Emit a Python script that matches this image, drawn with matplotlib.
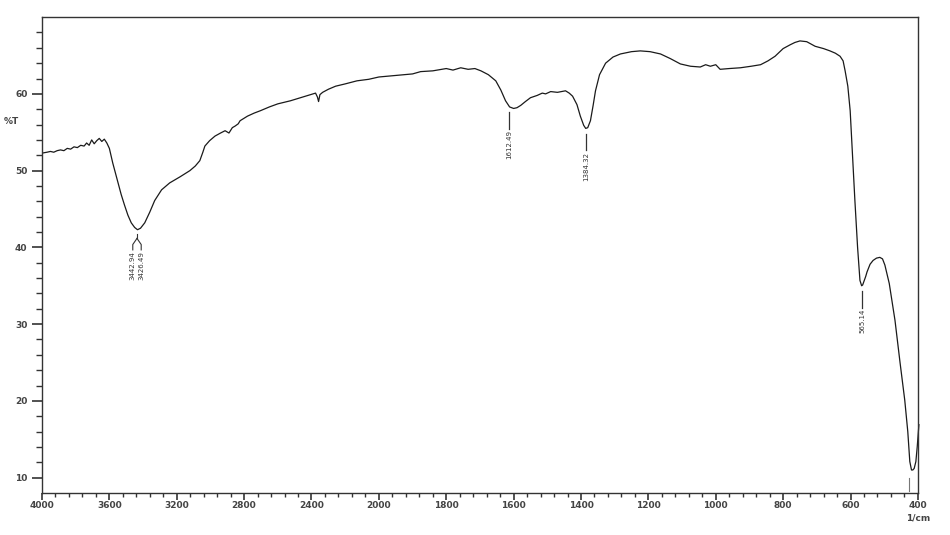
import numpy as np
import matplotlib.pyplot as plt

# spectrum (wavenumber 1/cm, %T)
wavenumber = [3995, 3970, 3950, 3930, 3910, 3890, 3870, 3850, 3830, 3810, 3790, 3770,
              3750, 3735, 3720, 3705, 3690, 3675, 3660, 3645, 3630, 3615, 3600, 3580,
              3552, 3530, 3510, 3490, 3470, 3450, 3433, 3415, 3390, 3360, 3331, 3290,
              3242, 3180, 3122, 3090, 3063, 3045, 3033, 3005, 2973, 2940, 2913, 2890,
              2870, 2854, 2835, 2824, 2780, 2740, 2704, 2650, 2600, 2525, 2450, 2376,
              2365, 2358, 2350, 2334, 2300, 2257, 2200, 2130, 2060, 2000, 1950, 1900,
              1876, 1840, 1800, 1780, 1757, 1735, 1715, 1697, 1675, 1653, 1638, 1624,
              1612, 1600, 1590, 1579, 1565, 1550, 1530, 1515, 1505, 1490, 1470, 1446,
              1435, 1425, 1412, 1402, 1392, 1386, 1380, 1372, 1364, 1357, 1345, 1327,
              1305, 1283, 1250, 1224, 1195, 1164, 1135, 1105, 1075, 1046, 1030, 1016,
              1000, 987, 960, 927, 895, 867, 845, 824, 800, 779, 765, 750, 730, 705,
              680, 661, 645, 631, 622, 616, 608, 601, 594, 587, 579, 572, 567, 564,
              560, 555, 551, 542, 533, 523, 513, 505, 498, 485, 468, 453, 439, 430,
              424, 419, 415, 411, 406, 402, 397]
transmittance = [52.3, 52.4, 52.5, 52.4, 52.6, 52.7, 52.6, 52.9, 52.8, 53.1, 53.0, 53.3,
                 53.2, 53.6, 53.3, 54.0, 53.5, 53.9, 54.2, 53.8, 54.1, 53.6, 52.9, 51.0,
                 48.7, 46.9, 45.5, 44.2, 43.2, 42.6, 42.3, 42.5, 43.2, 44.6, 46.1, 47.5,
                 48.4, 49.2, 50.0, 50.6, 51.3, 52.4, 53.2, 53.9, 54.5, 54.9, 55.2, 54.9,
                 55.6, 55.8, 56.1, 56.5, 57.1, 57.5, 57.8, 58.3, 58.7, 59.1, 59.6, 60.1,
                 59.6, 59.0, 59.9, 60.2, 60.6, 61.0, 61.3, 61.7, 61.9, 62.2, 62.4, 62.6,
                 62.9, 63.0, 63.3, 63.1, 63.4, 63.2, 63.3, 63.0, 62.5, 61.7, 60.5, 59.1,
                 58.3, 58.1, 58.2, 58.5, 59.0, 59.5, 59.8, 60.1, 60.0, 60.3, 60.2, 60.4,
                 60.1, 59.7, 58.6, 57.1, 55.9, 55.5, 55.6, 56.5, 58.5, 60.4, 62.5, 64.0,
                 64.8, 65.2, 65.5, 65.6, 65.5, 65.2, 64.6, 63.9, 63.6, 63.5, 63.8, 63.6,
                 63.8, 63.2, 63.3, 63.4, 63.6, 63.8, 64.3, 64.9, 65.9, 66.4, 66.7, 66.9,
                 66.8, 66.2, 65.9, 65.6, 65.3, 64.9, 64.3, 63.0, 61.0, 57.8, 52.0, 46.1,
                 40.0, 35.7, 35.0, 35.1, 35.6, 36.2, 36.8, 37.8, 38.3, 38.6, 38.7, 38.5,
                 37.7, 35.3, 30.5, 25.0, 20.1, 16.0, 12.1, 11.0, 11.0, 11.2, 12.1, 14.0,
                 16.9]

# peaks marked on the chart
peak_pos = [3442.94, 3426.49, 1612.49, 1384.32, 565.14]
peak_labels = ['3442.94', '3426.49', '1612.49', '1384.32', '565.14']

xticks = [4000, 3600, 3200, 2800, 2400, 2000, 1800, 1600, 1400, 1200, 1000, 800, 600, 400]
yticks = [10, 20, 30, 40, 50, 60]


# the x axis is compressed 2x above 2000 1/cm
def fwd(w):
    w = np.asarray(w, dtype=float)
    return np.where(w > 2000, 2000 + (w - 2000) / 2, w)


def inv(v):
    v = np.asarray(v, dtype=float)
    return np.where(v > 2000, 2000 + (v - 2000) * 2, v)


plt.rcParams['font.family'] = ['DejaVu Sans']
fig = plt.figure(figsize=(9.5, 5.35), dpi=100)
ax = fig.add_axes([0.0442, 0.0785, 0.922, 0.8895])
ax.set_xscale('function', functions=(fwd, inv))
ax.set_xlim(4000, 400)
ax.set_ylim(8, 70)

ax.plot(wavenumber, transmittance, color='#1a1a1a', lw=0.9, clip_on=False)

minor_x = list(np.arange(4000, 2000, -80)) + list(np.arange(2000, 399, -40))
ax.set_xticks(xticks)
ax.set_xticks(minor_x, minor=True)
ax.set_yticks(yticks)
ax.set_yticks(np.arange(10, 70, 2), minor=True)
ax.tick_params(axis='both', which='major', direction='out', length=7, width=1.1,
               labelsize=6.5, colors='#222222', labelcolor='#444444')
ax.tick_params(axis='both', which='minor', direction='out', length=4, width=1.0,
               colors='#333333')
ax.tick_params(axis='x', which='major', length=5, pad=0.5)
ax.tick_params(axis='x', which='minor', length=3)
for lbl in ax.get_xticklabels() + ax.get_yticklabels():
    lbl.set_fontweight('bold')
for s in ax.spines.values():
    s.set_linewidth(1.0)
    s.set_color('#333333')

ax.text(-0.035, 0.78, '%T', transform=ax.transAxes, fontsize=6.5, color='#444444',
        fontweight='bold', ha='center', va='center')
ax.text(1.0, -0.052, '1/cm', transform=ax.transAxes, fontsize=6.5, color='#444444',
        fontweight='bold', ha='center', va='center')

# peak markers
Tpk = np.interp(peak_pos[::-1], wavenumber[::-1], transmittance[::-1])[::-1]
# paired markers around 3440
base = min(Tpk[0], Tpk[1]) - 0.6
ax.plot([3436, 3436], [base, base - 0.6], color='#333333', lw=0.8)
for w, d in zip(peak_pos[:2], [1, -1]):
    xw = 3436 + d * 25
    ax.plot([3436, xw, xw], [base - 0.6, base - 1.4, base - 2.1], color='#333333', lw=0.8)
    ax.text(xw, base - 2.3, peak_labels[peak_pos.index(w)], rotation=90, fontsize=5,
            ha='center', va='top', color='#333333')
for w, lab, t in zip(peak_pos[2:], peak_labels[2:], Tpk[2:]):
    top = t - 0.7
    ax.plot([w, w], [top, top - 2.2], color='#333333', lw=0.9)
    ax.text(w, top - 2.4, lab, rotation=90, fontsize=5, ha='center', va='top',
            color='#333333')
ax.plot([425, 425], [8.3, 10.0], color='#777777', lw=0.8)

fig.savefig('out.png', dpi=100)
